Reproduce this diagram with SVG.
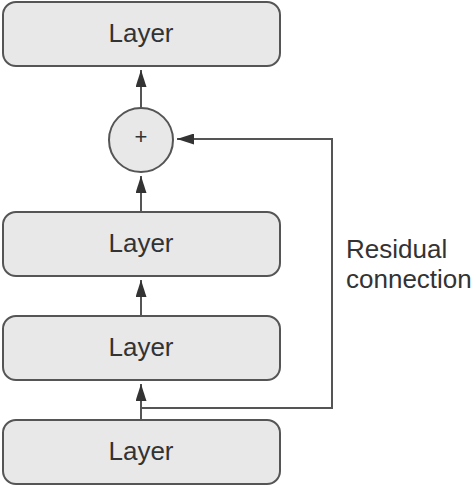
<svg xmlns="http://www.w3.org/2000/svg" width="474" height="488" viewBox="0 0 474 488">
<style>
.box{fill:#e8e8e8;stroke:#555;stroke-width:2}
.lbl{font-family:"Liberation Sans",Arial,sans-serif;font-size:26px;fill:#333;text-anchor:middle}
.txt{font-family:"Liberation Sans",Arial,sans-serif;font-size:26px;fill:#333}
.wire{fill:none;stroke:#555;stroke-width:2}
</style>
<defs>
<marker id="ah" viewBox="0 0 17 11" refX="17" refY="5.5" markerWidth="17" markerHeight="11" markerUnits="userSpaceOnUse" orient="auto">
<path d="M0,0 L17,5.5 L0,11 Z" fill="#333"/>
</marker>
</defs>
<g id="layer1"><rect class="box" x="3" y="2" width="277" height="64" rx="13"/><text class="lbl" x="141" y="42">Layer</text></g>
<g id="add"><circle class="box" cx="141" cy="140" r="32"/><text class="lbl" x="141" y="143.5" style="font-size:22px">+</text></g>
<g id="layer2"><rect class="box" x="3" y="212" width="277" height="64" rx="13"/><text class="lbl" x="141" y="252">Layer</text></g>
<g id="layer3"><rect class="box" x="3" y="316" width="277" height="64" rx="13"/><text class="lbl" x="141" y="356">Layer</text></g>
<g id="layer4"><rect class="box" x="3" y="420" width="277" height="64" rx="13"/><text class="lbl" x="141" y="460">Layer</text></g>
<g id="residual-label"><text class="txt" x="346" y="258">Residual</text><text class="txt" x="346" y="288">connection</text></g>
<g id="connectors">
<line class="wire" x1="141" y1="108" x2="141" y2="70" marker-end="url(#ah)"/>
<line class="wire" x1="141" y1="212" x2="141" y2="176" marker-end="url(#ah)"/>
<line class="wire" x1="141" y1="316" x2="141" y2="280" marker-end="url(#ah)"/>
<line class="wire" x1="141" y1="420" x2="141" y2="384" marker-end="url(#ah)"/>
<polyline class="wire" points="141,408 332,408 332,139 177,139" marker-end="url(#ah)"/>
</g>
</svg>
